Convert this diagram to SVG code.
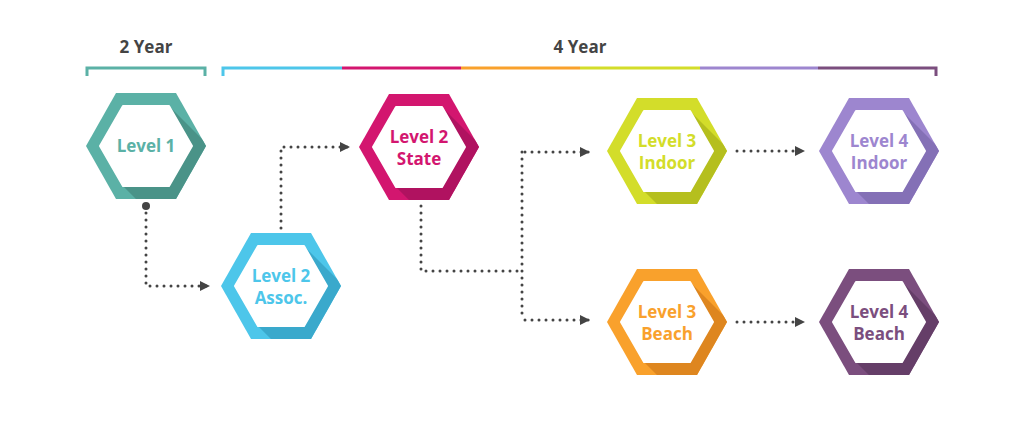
<svg xmlns="http://www.w3.org/2000/svg" width="1024" height="439" viewBox="0 0 1024 439">
<style>
.t{font-family:"Open Sans","Liberation Sans",sans-serif;font-weight:bold;font-size:17px;text-anchor:middle}
.c{fill:none;stroke:#444;stroke-width:3;stroke-linecap:round;stroke-dasharray:0 7}
.b{fill:none;stroke-width:3}
</style>
<defs>
<clipPath id="hc" clipPathUnits="userSpaceOnUse"><polygon points="-60,0 -30,-53 30,-53 60,0 30,53 -30,53"/></clipPath>
<polygon id="outer" points="-60,0 -30,-53 30,-53 60,0 30,53 -30,53" stroke-linejoin="round"/>
<polygon id="shade" points="23,-40 83,20 83,100 37,100 -23,40 23,40 46,0"/>
<polygon id="inner" points="-46,0 -23,-40 23,-40 46,0 23,40 -23,40" fill="#fff" stroke="#fff" stroke-width="2" stroke-linejoin="round"/>
<marker id="ar" viewBox="0 0 10 10" refX="10" refY="5" markerWidth="10" markerHeight="10" markerUnits="userSpaceOnUse" orient="auto"><path d="M0,0L10,5L0,10z" fill="#444"/></marker>
</defs>
<g id="brackets">
<text class="t" x="146" y="53" fill="#444">2 Year</text>
<text class="t" x="580" y="53" fill="#444">4 Year</text>
<path class="b" stroke="#5bb1a6" d="M87,76V68H205V76"/>
<path class="b" stroke="#4dc6ea" d="M223,76V68H342"/>
<path class="b" stroke="#d3166f" d="M342,68H461"/>
<path class="b" stroke="#f9a12c" d="M461,68H580"/>
<path class="b" stroke="#d3dd2a" d="M580,68H700"/>
<path class="b" stroke="#9d86cf" d="M700,68H818"/>
<path class="b" stroke="#7b4e7e" d="M818,68H936V76"/>
</g>
<g id="connectors">
<circle cx="146" cy="206" r="4" fill="#444"/>
<path class="c" d="M146,213V286H210" marker-end="url(#ar)"/>
<path class="c" d="M281,228V147H350" marker-end="url(#ar)"/>
<path class="c" d="M421,206V271H522"/>
<path class="c" d="M522,152V320"/>
<path class="c" d="M525,152H590" marker-end="url(#ar)"/>
<path class="c" d="M525,320H590" marker-end="url(#ar)"/>
<path class="c" d="M737,151H805" marker-end="url(#ar)"/>
<path class="c" d="M737,322H805" marker-end="url(#ar)"/>
</g>
<g id="level1" transform="translate(146,146)"><use href="#outer" fill="#5bb1a6"/><use href="#shade" fill="#4a9388" clip-path="url(#hc)"/><use href="#inner"/><text class="t" y="6" fill="#5bb1a6">Level 1</text></g>
<g id="level2assoc" transform="translate(281,286)"><use href="#outer" fill="#4dc6ea"/><use href="#shade" fill="#3aa9cc" clip-path="url(#hc)"/><use href="#inner"/><text class="t" y="-4" fill="#4dc6ea">Level 2</text><text class="t" y="18" fill="#4dc6ea">Assoc.</text></g>
<g id="level2state" transform="translate(419,147)"><use href="#outer" fill="#d3166f"/><use href="#shade" fill="#b01260" clip-path="url(#hc)"/><use href="#inner"/><text class="t" y="-4" fill="#d3166f">Level 2</text><text class="t" y="18" fill="#d3166f">State</text></g>
<g id="level3indoor" transform="translate(667,151)"><use href="#outer" fill="#d3dd2a"/><use href="#shade" fill="#b5bf1e" clip-path="url(#hc)"/><use href="#inner"/><text class="t" y="-4" fill="#d3dd2a">Level 3</text><text class="t" y="18" fill="#d3dd2a">Indoor</text></g>
<g id="level3beach" transform="translate(667,322)"><use href="#outer" fill="#f9a12c"/><use href="#shade" fill="#de861f" clip-path="url(#hc)"/><use href="#inner"/><text class="t" y="-4" fill="#f9a12c">Level 3</text><text class="t" y="18" fill="#f9a12c">Beach</text></g>
<g id="level4indoor" transform="translate(879,151)"><use href="#outer" fill="#9d86cf"/><use href="#shade" fill="#8470b6" clip-path="url(#hc)"/><use href="#inner"/><text class="t" y="-4" fill="#9d86cf">Level 4</text><text class="t" y="18" fill="#9d86cf">Indoor</text></g>
<g id="level4beach" transform="translate(879,322)"><use href="#outer" fill="#7b4e7e"/><use href="#shade" fill="#653e68" clip-path="url(#hc)"/><use href="#inner"/><text class="t" y="-4" fill="#7b4e7e">Level 4</text><text class="t" y="18" fill="#7b4e7e">Beach</text></g>
</svg>
